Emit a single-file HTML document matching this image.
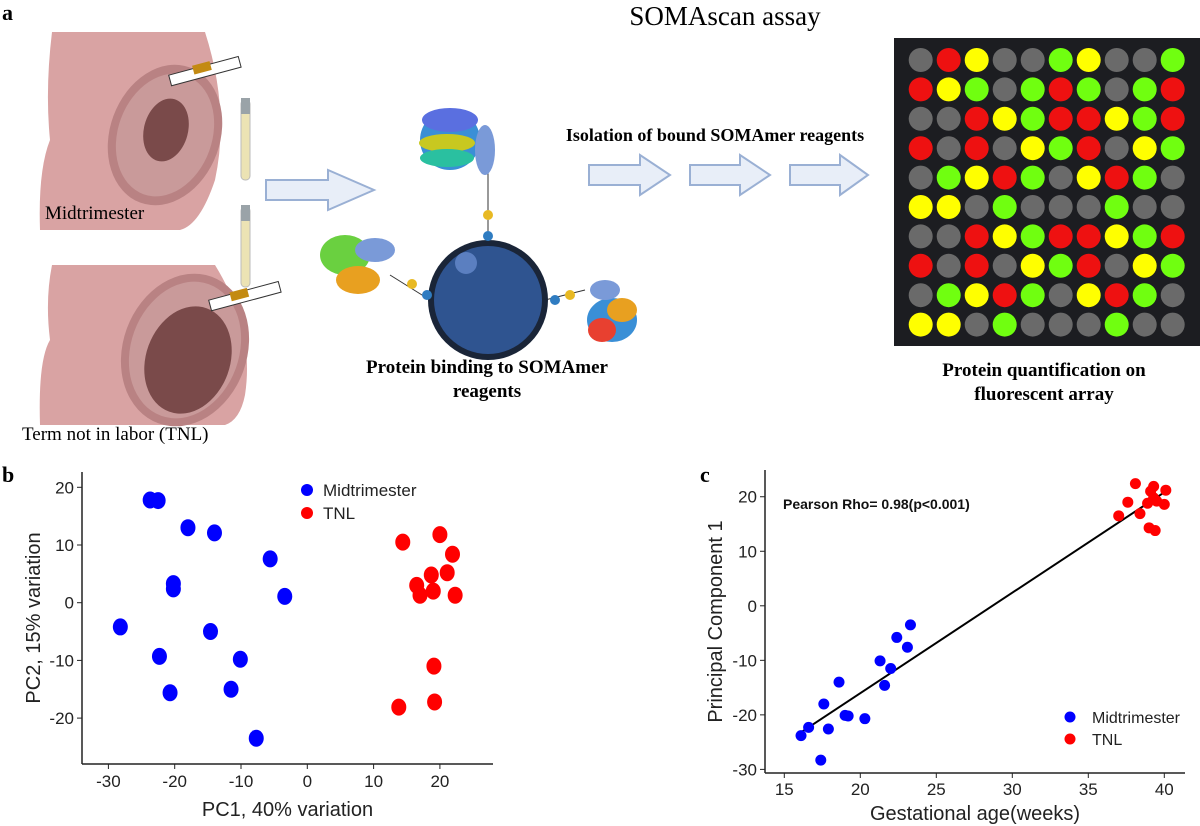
<!DOCTYPE html>
<html><head><meta charset="utf-8"><style>
body{margin:0;background:#fff;width:1200px;height:826px;overflow:hidden;font-family:"Liberation Sans",sans-serif}
svg{display:block}
.serif{font-family:"Liberation Serif",serif}
</style></head><body>
<svg id="fig" width="1200" height="826" xmlns="http://www.w3.org/2000/svg">
<text class="serif" x="2" y="20" font-size="22" font-weight="bold">a</text>
<text class="serif" x="725" y="25" font-size="27" text-anchor="middle">SOMAscan assay</text>
<g>
<path d="M52,32 L205,32 Q230,110 215,180 Q200,225 180,230 L40,230 Q38,170 50,140 Q45,90 52,32Z" fill="#d9a3a3"/>
<ellipse cx="165" cy="135" rx="55" ry="72" transform="rotate(20 165 135)" fill="#b98283"/>
<ellipse cx="165" cy="135" rx="47" ry="63" transform="rotate(20 165 135)" fill="#c99a9a"/>
<ellipse cx="166" cy="130" rx="22" ry="32" transform="rotate(15 166 130)" fill="#7a4a4a"/>
<rect x="170" y="75" width="72" height="11" fill="#fff" stroke="#333" transform="rotate(-15 170 80)"/>
<rect x="195" y="72" width="18" height="9" fill="#c38a12" transform="rotate(-15 170 80)"/>
<rect x="241" y="100" width="9" height="80" rx="4" fill="#ece3b4" stroke="#bbb"/>
<rect x="241" y="98" width="9" height="16" fill="#9aa3a8"/>
</g>
<text class="serif" x="45" y="219" font-size="19">Midtrimester</text>
<g>
<path d="M52,265 L215,265 Q255,330 245,395 Q240,420 225,425 L40,425 Q38,360 50,340 Q45,300 52,265Z" fill="#d9a3a3"/>
<ellipse cx="185" cy="350" rx="62" ry="78" transform="rotate(20 185 350)" fill="#b98283"/>
<ellipse cx="185" cy="350" rx="54" ry="70" transform="rotate(20 185 350)" fill="#c99a9a"/>
<ellipse cx="188" cy="360" rx="42" ry="55" transform="rotate(20 188 360)" fill="#7a4a4a"/>
<rect x="210" y="300" width="72" height="11" fill="#fff" stroke="#333" transform="rotate(-15 210 305)"/>
<rect x="232" y="298" width="18" height="9" fill="#c38a12" transform="rotate(-15 210 305)"/>
<rect x="241" y="207" width="9" height="80" rx="4" fill="#ece3b4" stroke="#bbb"/>
<rect x="241" y="205" width="9" height="16" fill="#9aa3a8"/>
</g>
<text class="serif" x="22" y="440" font-size="19">Term not in labor (TNL)</text>
<g fill="#e8eef8" stroke="#9ab0d4" stroke-width="2">
<path d="M266,180 L328,180 L328,170 L374,190 L328,210 L328,200 L266,200Z"/>
<path d="M589,165 L640,165 L640,155 L670,175 L640,195 L640,185 L589,185Z"/>
<path d="M690,165 L740,165 L740,155 L770,175 L740,195 L740,185 L690,185Z"/>
<path d="M790,165 L840,165 L840,155 L868,175 L840,195 L840,185 L790,185Z"/>
</g>
<g>
<line x1="488" y1="160" x2="488" y2="240" stroke="#333"/>
<line x1="390" y1="275" x2="430" y2="300" stroke="#333"/>
<line x1="545" y1="300" x2="585" y2="290" stroke="#333"/>
<circle cx="488" cy="300" r="60" fill="#1a2538"/>
<circle cx="488" cy="300" r="54" fill="#2f5490"/>
<circle cx="466" cy="263" r="11" fill="#5b7fc0"/>
<circle cx="488" cy="215" r="5" fill="#e8b923"/><circle cx="488" cy="236" r="5" fill="#2f7cc1"/>
<circle cx="412" cy="284" r="5" fill="#e8b923"/><circle cx="427" cy="295" r="5" fill="#2f7cc1"/>
<circle cx="570" cy="295" r="5" fill="#e8b923"/><circle cx="555" cy="300" r="5" fill="#2f7cc1"/>
<ellipse cx="450" cy="140" rx="30" ry="30" fill="#3a8fd6"/>
<ellipse cx="450" cy="120" rx="28" ry="12" fill="#5a6fe0"/>
<ellipse cx="447" cy="143" rx="28" ry="9" fill="#c8c820"/>
<ellipse cx="447" cy="158" rx="27" ry="9" fill="#2ac0a0"/>
<ellipse cx="485" cy="150" rx="10" ry="25" fill="#7a9ad8"/>
<ellipse cx="345" cy="255" rx="25" ry="20" fill="#6ad040"/>
<ellipse cx="358" cy="280" rx="22" ry="14" fill="#e8a020"/>
<ellipse cx="375" cy="250" rx="20" ry="12" fill="#7a9ad8"/>
<ellipse cx="612" cy="320" rx="25" ry="22" fill="#3a8fd6"/>
<ellipse cx="602" cy="330" rx="14" ry="12" fill="#e84030"/>
<ellipse cx="622" cy="310" rx="15" ry="12" fill="#e8a020"/>
<ellipse cx="605" cy="290" rx="15" ry="10" fill="#7a9ad8"/>
</g>
<text class="serif" x="487" y="428" font-size="19" text-anchor="middle" font-weight="bold"><tspan x="487" dy="-55">Protein binding to SOMAmer</tspan><tspan x="487" dy="24">reagents</tspan></text>
<text class="serif" x="715" y="141" font-size="18" text-anchor="middle" font-weight="bold">Isolation of bound SOMAmer reagents</text>
<g id="array"><rect x="894" y="38" width="306" height="308" fill="#1c1d21"/></g>
<text class="serif" x="1044" y="376" font-size="19" text-anchor="middle" font-weight="bold"><tspan x="1044">Protein quantification on</tspan><tspan x="1044" dy="24">fluorescent array</tspan></text>
<text class="serif" x="2" y="482" font-size="22" font-weight="bold">b</text>
<text class="serif" x="700" y="482" font-size="22" font-weight="bold">c</text>
<g id="pb"></g>
<g id="pc"></g>
</svg>
<script>
const NS="http://www.w3.org/2000/svg";
function mk(p,t,a){const e=document.createElementNS(NS,t);for(const k in a)e.setAttribute(k,a[k]);p.appendChild(e);return e;}
const arrayRows=["GRYGGLYGGL","RYLGLRLGLR","GGRYLRRYLR","RGRGYLRGYL","GLYRLGYRLG","YYGLGGGLGG","GGRYLRRYLR","RGRGYLRGYL","GLYRLGYRLG","YYGLGGGLGG"];
const col={G:"#6a6a6a",R:"#ee1111",Y:"#ffff00",L:"#70ff10"};
const arr=document.getElementById('array');
arrayRows.forEach((r,i)=>[...r].forEach((c,j)=>{const e=mk(arr,'circle',{cx:920.7+j*28,cy:60+i*29.4,r:12,fill:col[c]});

}));
const bBlueX=[-23.7,-22.5,-18,-14,-5.6,-20.2,-20.2,-3.4,-28.2,-14.6,-22.3,-10.1,-20.7,-11.5,-7.7];
const bBlueY=[17.8,17.7,13,12.1,7.6,3.3,2.4,1.1,-4.2,-5,-9.3,-9.8,-15.6,-15,-23.5];
const bRedX=[14.4,20,21.9,16.5,18.7,21.1,17,19,22.3,19.1,13.8,19.2];
const bRedY=[10.5,11.8,8.4,3,4.8,5.2,1.3,2,1.3,-11,-18.1,-17.2];
const bXTicks=[-30,-20,-10,0,10,20];
const bYTicks=[-20,-10,0,10,20];
const cBlueX=[16.1,16.6,17.4,17.6,17.9,18.6,19,19.2,20.3,21.3,21.6,22,22.4,23.1,23.3];
const cBlueY=[-23.8,-22.3,-28.3,-18,-22.6,-14,-20.1,-20.2,-20.7,-10.1,-14.6,-11.5,-5.8,-7.6,-3.5];
const cRedX=[37,37.6,38.1,38.4,38.9,39,39.1,39.3,39.4,39.5,40,40.1,39.3];
const cRedY=[16.5,19,22.4,16.9,18.8,14.3,21,21.9,13.8,19.2,18.6,21.2,19.8];
const cFitX=[16.1,40.1];
const cFitY=[-23.2,21];
const cXTicks=[15,20,25,30,35,40];
const cYTicks=[-30,-20,-10,0,10,20];

function axes(g,o){
  mk(g,'line',{x1:o.L,y1:o.T,x2:o.L,y2:o.B,stroke:'#222','stroke-width':1.5});
  mk(g,'line',{x1:o.L,y1:o.B,x2:o.R,y2:o.B,stroke:'#222','stroke-width':1.5});
  o.xt.forEach(v=>{const x=o.sx(v);mk(g,'line',{x1:x,y1:o.B,x2:x,y2:o.B+5,stroke:'#222'});
    const t=mk(g,'text',{x:x,y:o.B+o.xo,'font-size':17,'text-anchor':'middle',fill:'#222'});t.textContent=v;
    
    });
  o.yt.forEach(v=>{const y=o.sy(v);mk(g,'line',{x1:o.L-5,y1:y,x2:o.L,y2:y,stroke:'#222'});
    const t=mk(g,'text',{x:o.L-8,y:y+6,'font-size':17,'text-anchor':'end',fill:'#222'});t.textContent=v;
    
    });
  const xt=mk(g,'text',{x:(o.L+o.R)/2,y:o.B+o.to,'font-size':20,'text-anchor':'middle',fill:'#222'});xt.textContent=o.xl;
  
  
  const yt=mk(g,'text',{x:0,y:0,'font-size':20,'text-anchor':'middle',fill:'#222',transform:`translate(${o.yx},${(o.T+o.B)/2}) rotate(-90)`});yt.textContent=o.yl;
  
  
}
const pb=document.getElementById('pb');
const bx=v=>307.3+v*6.63, by=v=>602.7-v*5.77;
axes(pb,{L:82,R:493,T:472,B:764,sx:bx,sy:by,xt:bXTicks,yt:bYTicks,xl:'PC1, 40% variation',yl:'PC2, 15% variation',yx:40,xo:23,to:52});
bBlueX.forEach((x,i)=>{const e=mk(pb,'ellipse',{cx:bx(x),cy:by(bBlueY[i]),rx:7.5,ry:8.5,fill:'#0000ff'});

});
bRedX.forEach((x,i)=>{const e=mk(pb,'ellipse',{cx:bx(x),cy:by(bRedY[i]),rx:7.5,ry:8.5,fill:'#ff0000'});

});
[['Midtrimester','#0000ff',490],['TNL','#ff0000',513]].forEach(([n,c,y])=>{
  const l=mk(pb,'g',{});
  
  
  mk(l,'circle',{cx:307,cy:y,r:6,fill:c});
  const t=mk(l,'text',{x:323,y:y+6,'font-size':17,fill:'#222'});t.textContent=n;});
const pc=document.getElementById('pc');
const cx=v=>784.3+(v-15)*15.2, cy=v=>605.8-v*5.453;
axes(pc,{L:765,R:1185,T:470,B:773,sx:cx,sy:cy,xt:cXTicks,yt:cYTicks,xl:'Gestational age(weeks)',yl:'Principal Component 1',yx:722,xo:22,to:47});
const fit=mk(pc,'line',{x1:cx(cFitX[0]),y1:cy(cFitY[0]),x2:cx(cFitX[1]),y2:cy(cFitY[1]),stroke:'#000','stroke-width':2});


cBlueX.forEach((x,i)=>{const e=mk(pc,'circle',{cx:cx(x),cy:cy(cBlueY[i]),r:5.5,fill:'#0000ff'});

});
cRedX.forEach((x,i)=>{const e=mk(pc,'circle',{cx:cx(x),cy:cy(cRedY[i]),r:5.5,fill:'#ff0000'});

});
const ann=mk(pc,'text',{x:783,y:509,'font-size':14,'font-weight':'bold',fill:'#111'});ann.textContent='Pearson Rho= 0.98(p<0.001)';


[['Midtrimester','#0000ff',717],['TNL','#ff0000',739]].forEach(([n,c,y])=>{
  const l=mk(pc,'g',{});
  
  
  mk(l,'circle',{cx:1070,cy:y,r:5.5,fill:c});
  const t=mk(l,'text',{x:1092,y:y+6,'font-size':16,fill:'#222'});t.textContent=n;});
</script>
</body></html>
